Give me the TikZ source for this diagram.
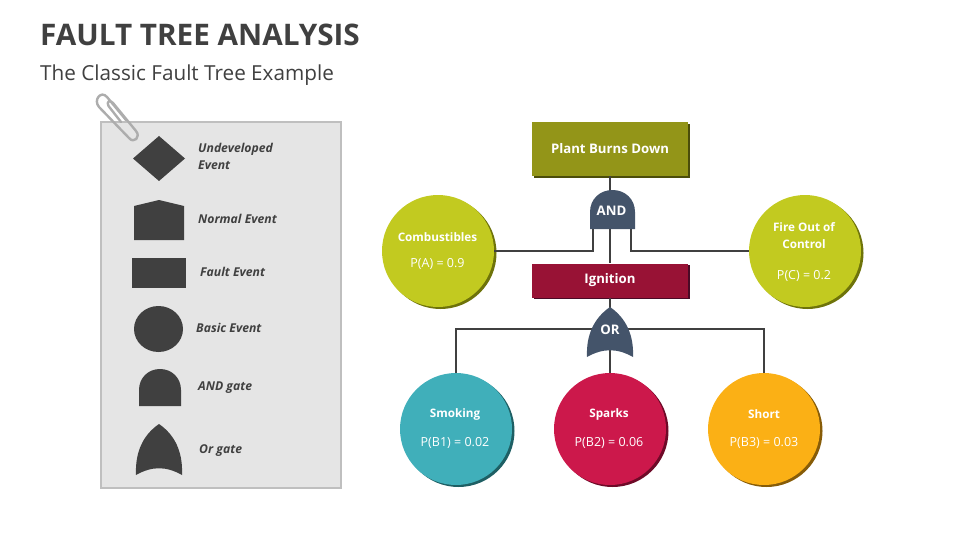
\documentclass[tikz,border=0pt]{standalone}
\usepackage{fontspec}
\setmainfont{Open Sans}
\definecolor{dk}{HTML}{404040}
\definecolor{gate}{HTML}{44546A}
\definecolor{wire}{HTML}{404040}
\definecolor{lime}{RGB}{194,202,32}
\definecolor{limes}{RGB}{110,115,10}
\begin{document}
\begin{tikzpicture}[x=1pt,y=-1pt,
  wirel/.style={draw=wire,line width=1.6pt},
  lbl/.style={font=\fontsize{12.2}{17.5}\selectfont\bfseries\itshape,text=dk,anchor=west,align=left,inner sep=0pt},
  ctitle/.style={font=\fontsize{11.7}{17}\selectfont\bfseries,text=white,align=center,inner sep=0pt},
  cval/.style={font=\fontsize{12.5}{16}\selectfont,text=white,inner sep=0pt},
  boxl/.style={font=\fontsize{13.2}{16}\selectfont\bfseries,text=white,inner sep=0pt,minimum width=156pt},
  gatel/.style={font=\fontsize{13.2}{16}\selectfont\bfseries,text=white,inner sep=0pt},
  shp/.style={fill=dk,draw=none},
  circ/.style={circle,minimum size=112pt,inner sep=0pt,draw=none}]
\useasboundingbox (0,0) rectangle (960,540);
\node[anchor=west,inner sep=0pt,text=dk,font=\fontsize{29.7}{34}\selectfont\bfseries] (title) at (40,35) {FAULT TREE ANALYSIS};
\node[anchor=west,inner sep=0pt,text=dk,font=\fontsize{20.7}{24}\selectfont] (sub) at (40,75.5) {The Classic Fault Tree Example};
% legend
\node[draw=black!25,fill=black!10,line width=2pt,minimum width=240pt,minimum height=366pt,inner sep=0pt] (sheet) at (221,305) {};
\draw[line width=2.4pt,draw=black!32,line join=round,line cap=round]
  (121,122) -- (108.5,106)
  .. controls (106,102) and (110,99) .. (113,103)
  -- (136,131)
  .. controls (141,137) and (134,144) .. (129,138)
  -- (99,107)
  .. controls (93,100) and (101,90) .. (107,97)
  -- (126,120);
\fill[shp] (159,136) -- (185,158.5) -- (159,181) -- (133,158.5) -- cycle;
\fill[shp] (134,206) -- (159,200) -- (184,206) -- (184,240) -- (134,240) -- cycle;
\fill[shp] (132,258) rectangle (186,288);
\fill[shp] (158.5,329) ellipse [x radius=24.5,y radius=23];
\fill[shp] (139,406) -- (139,390) .. controls (139,378) and (148,369) .. (160,369) .. controls (172,369) and (181,378) .. (181,390) -- (181,406) -- cycle;
\fill[shp] (136,475) .. controls (135,452) and (143,435) .. (159,424) .. controls (175,435) and (183,452) .. (182,475) .. controls (166,466) and (152,466) .. (136,475) -- cycle;
\node[lbl] (l1) at (198,156.5) {Undeveloped\\Event};
\node[lbl] (l2) at (198,219) {Normal Event};
\node[lbl] (l3) at (200,272) {Fault Event};
\node[lbl] (l4) at (196,328) {Basic Event};
\node[lbl] (l5) at (198,388) {AND gate};
\node[lbl] (l6) at (199,450.5) {Or gate};
% box shadows
\fill[fill={rgb,255:red,75;green,77;blue,10}] (534,124) rectangle (690,178);
\fill[fill={rgb,255:red,74;green,10;blue,38}] (534,265) rectangle (690,299);
% nodes
\node[boxl,fill={rgb,255:red,147;green,149;blue,24},minimum height=54pt] (plant) at (610,149) {Plant Burns Down};
\node[boxl,fill={rgb,255:red,152;green,18;blue,53},minimum height=34pt] (ignition) at (610,280.5) {Ignition};
\coordinate (andl) at (593,228);
\coordinate (andr) at (631,228);
\coordinate (andm) at (593,251);
\coordinate (andn) at (631,251);
\coordinate (orc) at (610,329);
% connectors
\draw[wirel] (plant.south) -- (ignition.north);
\fill[limes] (440.5,253) circle [radius=56];
\fill[limes] (807.5,253) circle [radius=56];
\fill[fill={rgb,255:red,30;green,95;blue,100}] (458.5,431) circle [radius=56];
\fill[fill={rgb,255:red,110;green,10;blue,40}] (612.5,431) circle [radius=56];
\fill[fill={rgb,255:red,135;green,92;blue,8}] (766.5,431) circle [radius=56];
\node[circ,fill=lime] (ca) at (438,251) {};
\node[circ,fill=lime] (cc) at (805,251) {};
\node[circ,fill={rgb,255:red,64;green,175;blue,186}] (b1) at (456,429) {};
\node[circ,fill={rgb,255:red,204;green,24;blue,75}] (b2) at (610,429) {};
\node[circ,fill={rgb,255:red,251;green,176;blue,21}] (b3) at (764,429) {};
\draw[wirel] (ca.east) -- (andm) -- (andl);
\draw[wirel] (cc.west) -- (andn) -- (andr);
\draw[wirel] (ignition.south) -- (b2.north);
\draw[wirel] (b1.north) -- (b1.north |- orc) -- (b3.north |- orc) -- (b3.north);
% gates
\path[fill=gate] (590,229) -- (590,212) .. controls (590,199) and (600,190) .. (612.5,190) .. controls (625,190) and (635,199) .. (635,212) -- (635,229) -- cycle;
\node[gatel] (andg) at (611.5,210.5) {AND};
\path[fill=gate] (587,357) .. controls (586,335) and (594,318) .. (610,307) .. controls (626,318) and (634,335) .. (633,357) .. controls (617,348) and (603,348) .. (587,357) -- cycle;
\node[gatel] (org) at (610,329.5) {OR};
% circle texts
\node[ctitle] (ta) at (437.5,237) {Combustibles};
\node[cval] (va) at (437.5,263.5) {P(A) = 0.9};
\node[ctitle] (tc) at (804,235.5) {Fire Out of\\Control};
\node[cval] (vc) at (804,275.5) {P(C) = 0.2};
\node[ctitle] (t1) at (455,414.5) {Smoking};
\node[cval] (v1) at (455,442.5) {P(B1) = 0.02};
\node[ctitle] (t2) at (609,414.5) {Sparks};
\node[cval] (v2) at (609,442.5) {P(B2) = 0.06};
\node[ctitle] (t3) at (764,414) {Short};
\node[cval] (v3) at (764,442.5) {P(B3) = 0.03};
\end{tikzpicture}
\end{document}
